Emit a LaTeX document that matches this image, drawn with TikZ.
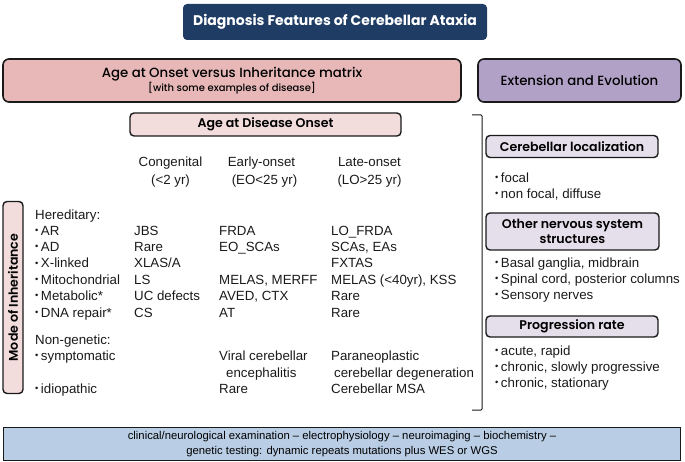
\documentclass[tikz,border=0pt]{standalone}
\usepackage{fontspec}
\setmainfont{Liberation Sans}
\newfontfamily\headfont{Poppins}
\newfontfamily\headmed{Poppins Medium}
\newfontfamily\headsemi{Poppins SemiBold}
\usetikzlibrary{positioning}
\definecolor{blackmain}{HTML}{1A1A1A}
\definecolor{navytitle}{HTML}{1F3C64}
\definecolor{pinkmain}{HTML}{E8B8B9}
\definecolor{pinklight}{HTML}{F3DCDC}
\definecolor{purplemain}{HTML}{B2A1C7}
\definecolor{purplelight}{HTML}{E5DFEC}
\definecolor{bluenote}{HTML}{B9CDE5}
\newcommand{\bul}{\raisebox{0.25ex}{\scalebox{0.7}{\textbullet}}\hspace{2.5pt}}
\tikzset{
  every node/.append style={inner sep=0pt},
  titlebox/.style={fill=navytitle,rounded corners=4pt,text=white,
    font=\headfont\bfseries\fontsize{14}{16}\selectfont},
  catbox/.style={draw=blackmain,line width=1.6pt,rounded corners=6pt,align=center,
    font=\headmed\fontsize{13.3}{16}\selectfont},
  subbox/.style={draw=blackmain,line width=1.4pt,rounded corners=4pt,align=center,
    font=\headsemi\fontsize{12.6}{15}\selectfont},
  txt/.style={anchor=base west,font=\fontsize{13.3}{16.6}\selectfont,text=blackmain},
  coltxt/.style={align=center,font=\fontsize{13.3}{18}\selectfont,text=blackmain}
}
\begin{document}
\begin{tikzpicture}[x=1pt,y=-1pt]
\useasboundingbox (0,0) rectangle (685,462);
\node[titlebox,minimum width=304,minimum height=36] (title) at (335,22)
  {Diagnosis Features of Cerebellar Ataxia};
\node[catbox,fill=pinkmain,minimum width=458,minimum height=43] (matrix) at (232,80.5)
  {Age at Onset versus Inheritance matrix\\[-2pt]{\fontsize{10}{11}\selectfont[with some examples of disease]}};
\node[catbox,fill=purplemain,minimum width=203,minimum height=43] (extension) at (579.5,80.5)
  {Extension and Evolution};

\node[subbox,fill=pinklight,minimum width=271,minimum height=23] (onset) at (265.5,124.5)
  {Age at Disease Onset};
\node[coltxt] (congenital) at (170.5,172) {Congenital\\(<2 yr)};
\node[coltxt] (early) at (261.5,172) {Early-onset\\\hspace{6pt}(EO<25 yr)};
\node[coltxt] (late) at (369.5,172) {Late-onset\\(LO>25 yr)};

\node[subbox,fill=pinklight,rotate=90,minimum width=192,minimum height=20] (mode) at (13,297.5)
  {Mode of Inheritance};

\node[txt] (hered) at (35,219.5) {Hereditary:};
\foreach \y/\lab/\con/\eo/\lo [count=\i] in {
  235.3/AR/JBS/FRDA/LO\_FRDA,
  251.3/AD/Rare/EO\_SCAs/{SCAs, EAs},
  268/X-linked/XLAS\slash A//FXTAS,
  284.7/Mitochondrial/LS/{MELAS, MERFF}/{MELAS (<40yr), KSS},
  300.7/Metabolic*/UC defects/{AVED, CTX}/Rare,
  317/DNA repair*/CS/AT/Rare}{
  \node[txt] (lab\i) at (35,\y) {\bul\lab};
  \node[txt] (con\i) at (134,\y) {\con};
  \node[txt] (eo\i) at (219,\y) {\eo};
  \node[txt] (lo\i) at (331,\y) {\lo};
}
\node[txt] (nongen) at (35,344.5) {Non-genetic:};
\node[txt] (sympt) at (35,360.5) {\bul symptomatic};
\node[txt,align=left] (viral) at (219,377) {Viral cerebellar\\\hspace{7pt}encephalitis};
\node[txt,align=left] (parane) at (331,377) {Paraneoplastic\\\hspace{3pt}cerebellar degeneration};
\node[txt] (idio) at (35,393) {\bul idiopathic};
\node[txt] (idioeo) at (219,393) {Rare};
\node[txt] (idiolo) at (331,393) {Cerebellar MSA};

\draw[blackmain,line width=1pt,rounded corners=1pt] (472,115) -- (482,115) -- (482,410) -- (472,410);

\node[subbox,fill=purplelight,minimum width=172,minimum height=22] (local) at (572,146.5)
  {Cerebellar localization};
\node[txt] (focal) at (495,182.5) {\bul focal};
\node[txt] (nonfocal) at (495,198.5) {\bul non focal, diffuse};
\node[subbox,fill=purplelight,minimum width=173,minimum height=37] (other) at (572.5,231.5)
  {Other nervous system\\structures};
\node[txt] (basal) at (495,267.5) {\bul Basal ganglia, midbrain};
\node[txt] (spinal) at (495,283.5) {\bul Spinal cord, posterior columns};
\node[txt] (sensory) at (495,299.5) {\bul Sensory nerves};
\node[subbox,fill=purplelight,minimum width=172,minimum height=21] (progress) at (572,326.5)
  {Progression rate};
\node[txt] (acute) at (495,355.5) {\bul acute, rapid};
\node[txt] (chronic) at (495,371.5) {\bul chronic, slowly progressive};
\node[txt] (stationary) at (495,387.5) {\bul chronic, stationary};

\node[draw=blackmain,line width=0.8pt,fill=bluenote,minimum width=677,minimum height=33.5,
  align=center,font=\fontsize{11.3}{15.4}\selectfont] (workup) at (342,443.8)
  {clinical/neurological examination -- electrophysiology -- neuroimaging -- biochemistry --\\
   genetic testing: dynamic repeats mutations plus WES or WGS};
\end{tikzpicture}
\end{document}
